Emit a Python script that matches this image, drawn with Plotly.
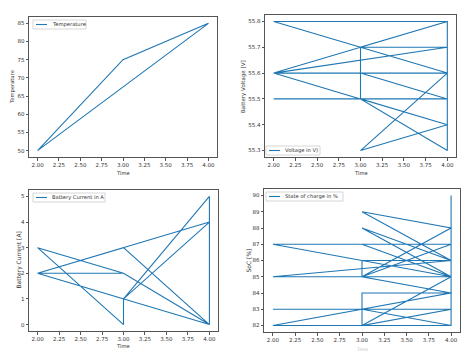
import plotly.graph_objects as go

# ---------------- data ----------------
temp_time = [2, 3, 4, 2]
temp_vals = [50, 75, 85, 50]

volt_time = [4, 2, 4, 2, 3, 4, 2, 3, 3, 4, 2, 3, 4, 3, 4, 4, 3, 3, 4, 4]
volt_vals = [55.8, 55.8, 55.6, 55.6, 55.7, 55.7, 55.6, 55.5, 55.6, 55.5,
             55.5, 55.5, 55.4, 55.3, 55.6, 55.3, 55.5, 55.7, 55.8, 55.3]

curr_time = [2, 3, 4, 3, 2, 4, 3, 3, 2, 3, 4, 4, 3, 2, 4]
curr_vals = [2, 2, 0, 3, 2, 4, 1, 0, 3, 2, 0, 5, 1, 2, 0]

soc_time = [4, 4, 2, 4, 4, 2, 3, 4, 3, 4, 3, 4, 2, 4, 2, 4, 3, 3, 4, 3,
            3, 4, 4, 3, 4, 3, 4, 3, 4, 4, 3]
soc_vals = [90, 82, 82, 84, 83, 83, 83, 82, 82, 85, 85, 87, 87, 85, 85, 86, 86, 85, 84, 84,
            82, 83, 88, 89, 86, 88, 85, 87, 87, 88, 85]

x_ticks = [2.0, 2.25, 2.5, 2.75, 3.0, 3.25, 3.5, 3.75, 4.0]
x_ticklabels = ["2.00", "2.25", "2.50", "2.75", "3.00", "3.25", "3.50", "3.75", "4.00"]

series_names = ["Temperature", "Voltage in V)", "Battery Current in A", "State of charge in %"]
y_titles = ["Temperature", "Battery Voltage [V]", "Battery Current [A]", "SoC [%]"]
x_title = "Time"

# ---------------- layout helpers ----------------
W, H = 474, 358
BLUE = "#1f77b4"
FONT = "DejaVu Sans"
TXT = "#333333"
FRAME = "#555555"


def px(v):
    return v / W


def py(v):
    return 1 - v / H


fig = go.Figure()

panels = [
    # x, y, suffix, xdom(px), ydom(px top,bottom), yrange, yticks, yfmt,
    # ytitle (x px, size), xtitle (y px, size, color), legend (box x0,x1,y0,y1)
    (temp_time, temp_vals, "", (29, 217), (17, 157), [48.25, 86.75],
     list(range(50, 90, 5)), None, (13, 5.2), (173, 5.2, TXT), (33, 86, 20, 29)),
    (volt_time, volt_vals, "2", (265, 456), (15, 157), [55.275, 55.825],
     [55.3, 55.4, 55.5, 55.6, 55.7, 55.8], ".1f", (243, 5.5), (173, 5.2, TXT), (266, 320, 146, 155)),
    (curr_time, curr_vals, "3", (29, 218), (190, 331), [-0.25, 5.25],
     [0, 1, 2, 3, 4, 5], None, (18, 6), (346, 5.2, TXT), (33, 105, 193, 202)),
    (soc_time, soc_vals, "4", (264, 460), (189, 332), [81.6, 90.4],
     list(range(82, 91)), None, (248, 6), (349, 4.5, "#bbbbbb"), (266, 343, 192, 201)),
]

shapes = []
annotations = []

for i, (xs, ys, sfx, xdom, ydom, yr, yticks, yfmt, ytit, xtit, leg) in enumerate(panels):
    fig.add_trace(go.Scatter(
        x=xs, y=ys, mode="lines", name=series_names[i],
        line=dict(color=BLUE, width=1.1),
        xaxis="x" + sfx, yaxis="y" + sfx, showlegend=False,
    ))
    axis_common = dict(
        showline=True, mirror=True, linecolor=FRAME, linewidth=1,
        ticks="outside", ticklen=2.5, tickwidth=0.8, tickcolor=FRAME,
        showgrid=False, zeroline=False, automargin=False,
        tickfont=dict(family=FONT, size=5.5, color=TXT),
    )
    fig.layout["xaxis" + sfx] = dict(
        domain=[px(xdom[0]), px(xdom[1])], anchor="y" + sfx, range=[1.9, 4.1],
        tickvals=x_ticks, ticktext=x_ticklabels, **axis_common,
    )
    ya = dict(
        domain=[py(ydom[1]), py(ydom[0])], anchor="x" + sfx, range=yr,
        tickvals=yticks, **axis_common,
    )
    if yfmt:
        ya["tickformat"] = yfmt
    fig.layout["yaxis" + sfx] = ya

    # axis titles
    annotations.append(dict(
        text=y_titles[i], x=px(ytit[0]), y=py((ydom[0] + ydom[1]) / 2),
        xref="paper", yref="paper", textangle=-90, showarrow=False,
        xanchor="center", yanchor="middle",
        font=dict(family=FONT, size=ytit[1], color=TXT),
    ))
    annotations.append(dict(
        text=x_title, x=px((xdom[0] + xdom[1]) / 2), y=py(xtit[0]),
        xref="paper", yref="paper", showarrow=False,
        xanchor="center", yanchor="middle",
        font=dict(family=FONT, size=xtit[1], color=xtit[2]),
    ))

    # legend box
    x0, x1, y0, y1 = leg
    shapes.append(dict(
        type="rect", xref="paper", yref="paper",
        x0=px(x0), x1=px(x1), y0=py(y1), y1=py(y0),
        line=dict(color="#cccccc", width=0.8), fillcolor="rgba(255,255,255,0.85)",
        layer="above",
    ))
    ym = (y0 + y1) / 2
    shapes.append(dict(
        type="line", xref="paper", yref="paper",
        x0=px(x0 + 3), x1=px(x0 + 14), y0=py(ym), y1=py(ym),
        line=dict(color=BLUE, width=1.1), layer="above",
    ))
    annotations.append(dict(
        text=series_names[i], x=px(x0 + 17), y=py(ym),
        xref="paper", yref="paper", showarrow=False,
        xanchor="left", yanchor="middle",
        font=dict(family=FONT, size=5.2, color=TXT),
    ))

fig.update_layout(
    width=W, height=H,
    margin=dict(l=0, r=0, t=0, b=0),
    paper_bgcolor="white", plot_bgcolor="white",
    font=dict(family=FONT, size=6, color=TXT),
    shapes=shapes, annotations=annotations,
    showlegend=False,
)

fig.write_html(
    "out.html",
    config={"displayModeBar": False},
    post_script="document.body.style.margin='0';document.body.style.overflow='hidden';",
)
